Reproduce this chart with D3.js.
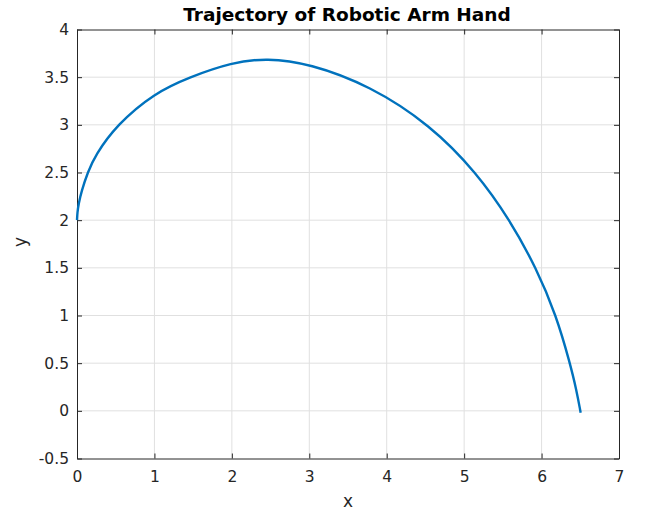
<!DOCTYPE html>
<html>
<head>
<meta charset="utf-8">
<script src="https://cdn.jsdelivr.net/npm/d3@7"></script>
<style>
  body { margin: 0; background: #fff; }
  text { font-family: "DejaVu Sans", sans-serif; fill: #262626; }
</style>
</head>
<body>
<svg id="chart"></svg>
<script>
// hand trajectory points
var xs = [0, 0.005, 0.02, 0.06, 0.138, 0.232, 0.512, 1.0, 1.45, 2.0, 2.45,
          3.0, 3.784, 4.56, 5.16, 5.592, 5.93, 6.19, 6.367, 6.45, 6.505];
var ys = [2.0, 2.08, 2.17, 2.31, 2.5, 2.676, 3.0, 3.334, 3.5, 3.655, 3.70,
          3.644, 3.41, 3.0, 2.5, 2.0, 1.5, 1.0, 0.5, 0.22, -0.02];
var xTicks = [0, 1, 2, 3, 4, 5, 6, 7];
var yTicks = [-0.5, 0, 0.5, 1, 1.5, 2, 2.5, 3, 3.5, 4];

var width = 662, height = 522;
var padL = 77, padR = 619, padT = 29.5, padB = 458.5;

var svg = d3.select("#chart").attr("width", width).attr("height", height);

var x = d3.scaleLinear().domain([0, 7]).range([padL, padR]);
var y = d3.scaleLinear().domain([-0.5, 4]).range([padB, padT]);

// grid
var grid = svg.append("g").attr("stroke", "#e0e0e0").attr("stroke-width", 1);
grid.selectAll("line.gx").data(xTicks.slice(1, -1)).enter().append("line")
  .attr("x1", function(d) { return x(d); }).attr("x2", function(d) { return x(d); })
  .attr("y1", padT).attr("y2", padB);
grid.selectAll("line.gy").data(yTicks.slice(1, -1)).enter().append("line")
  .attr("x1", padL).attr("x2", padR)
  .attr("y1", function(d) { return y(d); }).attr("y2", function(d) { return y(d); });

// axes, ticks pointing inward
var tick = 5;
var xAxis = d3.axisBottom(x).tickValues(xTicks).tickSizeInner(-tick).tickSizeOuter(0)
  .tickPadding(12).tickFormat(d3.format("d"));
var yAxis = d3.axisLeft(y).tickValues(yTicks).tickSizeInner(-tick).tickSizeOuter(0)
  .tickPadding(8).tickFormat(function(d) { return String(d); });
var xTop = d3.axisTop(x).tickValues(xTicks).tickSizeInner(-tick).tickSizeOuter(0).tickFormat("");
var yRight = d3.axisRight(y).tickValues(yTicks).tickSizeInner(-tick).tickSizeOuter(0).tickFormat("");

function style(g) {
  g.selectAll("path, line").attr("stroke", "#262626");
  g.selectAll("text").attr("font-size", 15.5).attr("fill", "#262626")
    .style("font-family", "DejaVu Sans, sans-serif");
}
svg.append("g").attr("transform", "translate(0," + padB + ")").call(xAxis).call(style);
svg.append("g").attr("transform", "translate(" + padL + ",0)").call(yAxis).call(style);
svg.append("g").attr("transform", "translate(0," + padT + ")").call(xTop).call(style);
svg.append("g").attr("transform", "translate(" + padR + ",0)").call(yRight).call(style);

// trajectory (B-spline through the read points to smooth reading noise)
var pts = xs.map(function(d, i) { return [d, ys[i]]; });
var line = d3.line()
  .x(function(d) { return x(d[0]); })
  .y(function(d) { return y(d[1]); })
  .curve(d3.curveBasis);
svg.append("path").datum(pts).attr("d", line)
  .attr("fill", "none").attr("stroke", "#0072BD").attr("stroke-width", 2.4);

// labels
svg.append("text").attr("x", 347).attr("y", 20.7)
  .attr("text-anchor", "middle").attr("font-size", 18.5).attr("font-weight", "bold")
  .style("fill", "#000")
  .text("Trajectory of Robotic Arm Hand");
svg.append("text").attr("x", 348).attr("y", 506.5)
  .attr("text-anchor", "middle").attr("font-size", 17).text("x");
svg.append("text").attr("transform", "translate(25.5,242) rotate(-90)")
  .attr("text-anchor", "middle").attr("font-size", 17).text("y");
</script>
</body>
</html>
